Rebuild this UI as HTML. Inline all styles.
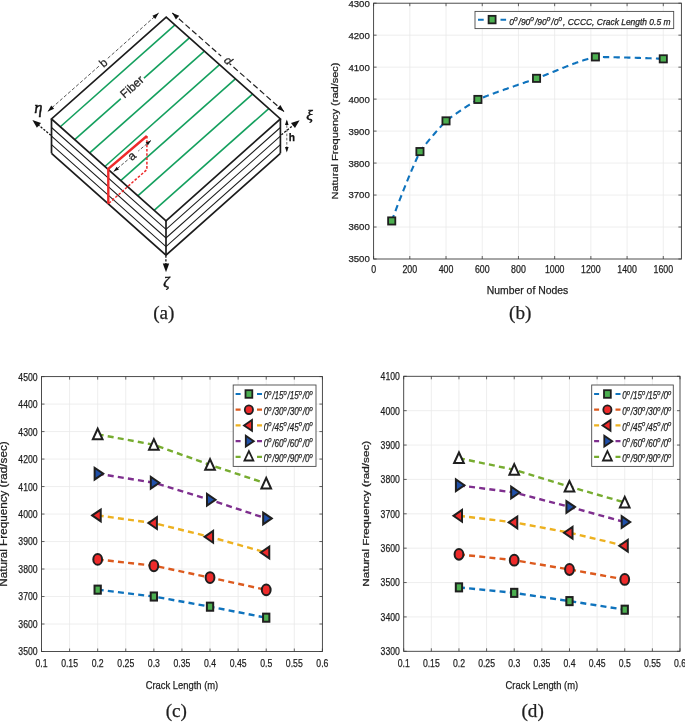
<!DOCTYPE html>
<html lang="en"><head><meta charset="utf-8"><title>Figure</title>
<style>html,body{margin:0;padding:0;background:#fff}svg{display:block}</style></head>
<body>
<svg width="685" height="722" viewBox="0 0 685 722">
<rect width="685" height="722" fill="#ffffff"/>
<g id="panel-a">
<line x1="175" y1="24.94" x2="60.3" y2="126.74" stroke="#14a05e" stroke-width="1.6"/>
<line x1="189.4" y1="37.78" x2="74.7" y2="139.58" stroke="#14a05e" stroke-width="1.6"/>
<line x1="204.4" y1="51.15" x2="89.7" y2="152.95" stroke="#14a05e" stroke-width="1.6"/>
<line x1="219.6" y1="64.7" x2="104.9" y2="166.5" stroke="#14a05e" stroke-width="1.6"/>
<line x1="235.4" y1="78.79" x2="120.7" y2="180.59" stroke="#14a05e" stroke-width="1.6"/>
<line x1="252.5" y1="94.03" x2="137.8" y2="195.83" stroke="#14a05e" stroke-width="1.6"/>
<line x1="268.8" y1="108.56" x2="154.1" y2="210.36" stroke="#14a05e" stroke-width="1.6"/>
<polygon points="166.2,17.1 280.4,118.9 166,220.8 51.5,118.9" fill="none" stroke="#1c1c1c" stroke-width="1.7" stroke-linejoin="miter"/>
<polyline points="51.5,127.5 166,229.4 280.4,127.5" fill="none" stroke="#1c1c1c" stroke-width="1.05"/>
<polyline points="51.5,136.1 166,238 280.4,136.1" fill="none" stroke="#1c1c1c" stroke-width="1.05"/>
<polyline points="51.5,144.7 166,246.6 280.4,144.7" fill="none" stroke="#1c1c1c" stroke-width="1.05"/>
<polyline points="51.5,153.3 166,255.2 280.4,153.3" fill="none" stroke="#1c1c1c" stroke-width="1.7"/>
<line x1="51.5" y1="118.9" x2="51.5" y2="153.3" stroke="#1c1c1c" stroke-width="1.7"/>
<line x1="166" y1="220.8" x2="166" y2="255.2" stroke="#1c1c1c" stroke-width="1.7"/>
<line x1="280.4" y1="118.9" x2="280.4" y2="153.3" stroke="#1c1c1c" stroke-width="1.7"/>
<polyline points="146.9,136 108.3,168.9 108.3,203.8" fill="none" stroke="#ee2a2a" stroke-width="2.4" stroke-linejoin="miter"/>
<polyline points="146.9,136 146.9,169.6 108.3,203.8" fill="none" stroke="#ee2a2a" stroke-width="1.5" stroke-dasharray="2.6 1.7"/>
<line x1="47.8" y1="111.4" x2="99.29" y2="65.85" stroke="#555" stroke-width="1.0" stroke-dasharray="3.4 2"/>
<line x1="158.7" y1="13" x2="107.51" y2="58.55" stroke="#555" stroke-width="1.0" stroke-dasharray="3.4 2"/>
<polygon points="47.8,111.4 51.2,105.44 54.12,108.73" fill="#111"/>
<polygon points="158.7,13 155.3,18.96 152.38,15.67" fill="#111"/>
<text x="106" y="65.8" font-size="11.8" text-anchor="middle" fill="#222" font-family='"Liberation Sans", Arial, sans-serif' transform="rotate(-41.6 106 65.8)" stroke="#222" stroke-width="0.25">b</text>
<line x1="172.3" y1="13" x2="221.18" y2="56.16" stroke="#222" stroke-width="1.2" stroke-dasharray="5.8 3"/>
<line x1="284" y1="111.6" x2="229.42" y2="63.44" stroke="#222" stroke-width="1.2" stroke-dasharray="5.8 3"/>
<polygon points="172.3,13 179.2,15.76 175.89,19.51" fill="#111"/>
<polygon points="284,111.6 277.1,108.84 280.41,105.09" fill="#111"/>
<text x="225.6" y="63.4" font-size="11.5" text-anchor="middle" fill="#222" font-family='"Liberation Sans", Arial, sans-serif' style="font-style:italic" transform="rotate(41.6 225.6 63.4)" stroke="#222" stroke-width="0.25">d</text>
<rect x="-15.5" y="-5" width="31" height="10" fill="#fff" transform="translate(132 88) rotate(-41.6)"/>
<text x="134.6" y="89.9" font-size="11.8" text-anchor="middle" fill="#222" font-family='"Liberation Sans", Arial, sans-serif' transform="rotate(-41.6 134.6 89.9)" stroke="#222" stroke-width="0.25">Fiber</text>
<line x1="113.6" y1="171.6" x2="129.78" y2="158.12" stroke="#555" stroke-width="1.0" stroke-dasharray="3.2 1.8"/>
<line x1="151" y1="140.4" x2="138.22" y2="151.08" stroke="#555" stroke-width="1.0" stroke-dasharray="3.2 1.8"/>
<polygon points="113.6,171.6 116.67,166.69 118.98,169.46" fill="#111"/>
<polygon points="151,140.4 147.93,145.31 145.62,142.54" fill="#111"/>
<text x="134.4" y="159" font-size="12.2" text-anchor="middle" fill="#222" font-family='"Liberation Sans", Arial, sans-serif' transform="rotate(-39.8 134.4 159)" stroke="#222" stroke-width="0.25">a</text>
<line x1="286.8" y1="121" x2="286.8" y2="151" stroke="#444" stroke-width="0.8" stroke-dasharray="2.6 1.6"/>
<polygon points="286.8,119.6 288.6,125.1 285,125.1" fill="#111"/>
<polygon points="286.8,152.4 285,146.9 288.6,146.9" fill="#111"/>
<text x="291.9" y="141.3" font-size="10.2" text-anchor="middle" fill="#111" font-family='"Liberation Sans", Arial, sans-serif' style="font-weight:bold" stroke="#111" stroke-width="0.25">h</text>
<line x1="50.9" y1="135.3" x2="36" y2="123" stroke="#111" stroke-width="1.3" stroke-dasharray="2.2 1.5"/>
<polygon points="32.4,119.9 40.98,122.88 36.89,127.8" fill="#111"/>
<line x1="281.4" y1="134.8" x2="295.5" y2="123.5" stroke="#111" stroke-width="1.3" stroke-dasharray="2.2 1.5"/>
<polygon points="299.6,120.2 294.97,128.01 290.97,123.02" fill="#111"/>
<line x1="165.9" y1="255.5" x2="165.9" y2="266" stroke="#111" stroke-width="1.3" stroke-dasharray="2.2 1.5"/>
<polygon points="166,272.2 162.8,263.6 169.2,263.6" fill="#111"/>
<text x="38.4" y="112.6" font-size="16.5" text-anchor="middle" fill="#111" font-family='"Liberation Serif", "Times New Roman", serif' style="font-style:italic" stroke="#111" stroke-width="0.45">&#951;</text>
<text x="309.6" y="119.6" font-size="15.5" text-anchor="middle" fill="#111" font-family='"Liberation Serif", "Times New Roman", serif' style="font-style:italic" stroke="#111" stroke-width="0.45">&#958;</text>
<text x="166.3" y="286.6" font-size="15.5" text-anchor="middle" fill="#111" font-family='"Liberation Serif", "Times New Roman", serif' style="font-style:italic" stroke="#111" stroke-width="0.45">&#950;</text>
<text x="163.8" y="319.2" font-size="19.2" text-anchor="middle" fill="#1e1e1e" font-family='"Liberation Serif", "Times New Roman", serif' stroke="#1e1e1e" stroke-width="0.25">(a)</text>
</g>
<g id="panel-b">
<line x1="409.81" y1="3.2" x2="409.81" y2="259" stroke="#eaeaea" stroke-width="0.8"/>
<line x1="446.02" y1="3.2" x2="446.02" y2="259" stroke="#eaeaea" stroke-width="0.8"/>
<line x1="482.24" y1="3.2" x2="482.24" y2="259" stroke="#eaeaea" stroke-width="0.8"/>
<line x1="518.45" y1="3.2" x2="518.45" y2="259" stroke="#eaeaea" stroke-width="0.8"/>
<line x1="554.66" y1="3.2" x2="554.66" y2="259" stroke="#eaeaea" stroke-width="0.8"/>
<line x1="590.87" y1="3.2" x2="590.87" y2="259" stroke="#eaeaea" stroke-width="0.8"/>
<line x1="627.08" y1="3.2" x2="627.08" y2="259" stroke="#eaeaea" stroke-width="0.8"/>
<line x1="663.29" y1="3.2" x2="663.29" y2="259" stroke="#eaeaea" stroke-width="0.8"/>
<line x1="373.6" y1="227.03" x2="681.4" y2="227.03" stroke="#eaeaea" stroke-width="0.8"/>
<line x1="373.6" y1="195.05" x2="681.4" y2="195.05" stroke="#eaeaea" stroke-width="0.8"/>
<line x1="373.6" y1="163.07" x2="681.4" y2="163.07" stroke="#eaeaea" stroke-width="0.8"/>
<line x1="373.6" y1="131.1" x2="681.4" y2="131.1" stroke="#eaeaea" stroke-width="0.8"/>
<line x1="373.6" y1="99.12" x2="681.4" y2="99.12" stroke="#eaeaea" stroke-width="0.8"/>
<line x1="373.6" y1="67.15" x2="681.4" y2="67.15" stroke="#eaeaea" stroke-width="0.8"/>
<line x1="373.6" y1="35.17" x2="681.4" y2="35.17" stroke="#eaeaea" stroke-width="0.8"/>
<line x1="373.6" y1="259" x2="373.6" y2="256" stroke="#3a3a3a" stroke-width="0.8"/>
<line x1="373.6" y1="3.2" x2="373.6" y2="6.2" stroke="#3a3a3a" stroke-width="0.8"/>
<line x1="409.81" y1="259" x2="409.81" y2="256" stroke="#3a3a3a" stroke-width="0.8"/>
<line x1="409.81" y1="3.2" x2="409.81" y2="6.2" stroke="#3a3a3a" stroke-width="0.8"/>
<line x1="446.02" y1="259" x2="446.02" y2="256" stroke="#3a3a3a" stroke-width="0.8"/>
<line x1="446.02" y1="3.2" x2="446.02" y2="6.2" stroke="#3a3a3a" stroke-width="0.8"/>
<line x1="482.24" y1="259" x2="482.24" y2="256" stroke="#3a3a3a" stroke-width="0.8"/>
<line x1="482.24" y1="3.2" x2="482.24" y2="6.2" stroke="#3a3a3a" stroke-width="0.8"/>
<line x1="518.45" y1="259" x2="518.45" y2="256" stroke="#3a3a3a" stroke-width="0.8"/>
<line x1="518.45" y1="3.2" x2="518.45" y2="6.2" stroke="#3a3a3a" stroke-width="0.8"/>
<line x1="554.66" y1="259" x2="554.66" y2="256" stroke="#3a3a3a" stroke-width="0.8"/>
<line x1="554.66" y1="3.2" x2="554.66" y2="6.2" stroke="#3a3a3a" stroke-width="0.8"/>
<line x1="590.87" y1="259" x2="590.87" y2="256" stroke="#3a3a3a" stroke-width="0.8"/>
<line x1="590.87" y1="3.2" x2="590.87" y2="6.2" stroke="#3a3a3a" stroke-width="0.8"/>
<line x1="627.08" y1="259" x2="627.08" y2="256" stroke="#3a3a3a" stroke-width="0.8"/>
<line x1="627.08" y1="3.2" x2="627.08" y2="6.2" stroke="#3a3a3a" stroke-width="0.8"/>
<line x1="663.29" y1="259" x2="663.29" y2="256" stroke="#3a3a3a" stroke-width="0.8"/>
<line x1="663.29" y1="3.2" x2="663.29" y2="6.2" stroke="#3a3a3a" stroke-width="0.8"/>
<line x1="373.6" y1="259" x2="376.6" y2="259" stroke="#3a3a3a" stroke-width="0.8"/>
<line x1="681.4" y1="259" x2="678.4" y2="259" stroke="#3a3a3a" stroke-width="0.8"/>
<line x1="373.6" y1="227.03" x2="376.6" y2="227.03" stroke="#3a3a3a" stroke-width="0.8"/>
<line x1="681.4" y1="227.03" x2="678.4" y2="227.03" stroke="#3a3a3a" stroke-width="0.8"/>
<line x1="373.6" y1="195.05" x2="376.6" y2="195.05" stroke="#3a3a3a" stroke-width="0.8"/>
<line x1="681.4" y1="195.05" x2="678.4" y2="195.05" stroke="#3a3a3a" stroke-width="0.8"/>
<line x1="373.6" y1="163.07" x2="376.6" y2="163.07" stroke="#3a3a3a" stroke-width="0.8"/>
<line x1="681.4" y1="163.07" x2="678.4" y2="163.07" stroke="#3a3a3a" stroke-width="0.8"/>
<line x1="373.6" y1="131.1" x2="376.6" y2="131.1" stroke="#3a3a3a" stroke-width="0.8"/>
<line x1="681.4" y1="131.1" x2="678.4" y2="131.1" stroke="#3a3a3a" stroke-width="0.8"/>
<line x1="373.6" y1="99.12" x2="376.6" y2="99.12" stroke="#3a3a3a" stroke-width="0.8"/>
<line x1="681.4" y1="99.12" x2="678.4" y2="99.12" stroke="#3a3a3a" stroke-width="0.8"/>
<line x1="373.6" y1="67.15" x2="376.6" y2="67.15" stroke="#3a3a3a" stroke-width="0.8"/>
<line x1="681.4" y1="67.15" x2="678.4" y2="67.15" stroke="#3a3a3a" stroke-width="0.8"/>
<line x1="373.6" y1="35.17" x2="376.6" y2="35.17" stroke="#3a3a3a" stroke-width="0.8"/>
<line x1="681.4" y1="35.17" x2="678.4" y2="35.17" stroke="#3a3a3a" stroke-width="0.8"/>
<line x1="373.6" y1="3.2" x2="376.6" y2="3.2" stroke="#3a3a3a" stroke-width="0.8"/>
<line x1="681.4" y1="3.2" x2="678.4" y2="3.2" stroke="#3a3a3a" stroke-width="0.8"/>
<rect x="373.6" y="3.2" width="307.8" height="255.8" fill="none" stroke="#3a3a3a" stroke-width="0.9"/>
<text x="373.6" y="273.28" font-size="10" text-anchor="middle" fill="#1e1e1e" font-family='"Liberation Sans", Arial, sans-serif' textLength="4.89" lengthAdjust="spacingAndGlyphs" stroke="#1e1e1e" stroke-width="0.25">0</text>
<text x="409.81" y="273.28" font-size="10" text-anchor="middle" fill="#1e1e1e" font-family='"Liberation Sans", Arial, sans-serif' textLength="14.68" lengthAdjust="spacingAndGlyphs" stroke="#1e1e1e" stroke-width="0.25">200</text>
<text x="446.02" y="273.28" font-size="10" text-anchor="middle" fill="#1e1e1e" font-family='"Liberation Sans", Arial, sans-serif' textLength="14.68" lengthAdjust="spacingAndGlyphs" stroke="#1e1e1e" stroke-width="0.25">400</text>
<text x="482.24" y="273.28" font-size="10" text-anchor="middle" fill="#1e1e1e" font-family='"Liberation Sans", Arial, sans-serif' textLength="14.68" lengthAdjust="spacingAndGlyphs" stroke="#1e1e1e" stroke-width="0.25">600</text>
<text x="518.45" y="273.28" font-size="10" text-anchor="middle" fill="#1e1e1e" font-family='"Liberation Sans", Arial, sans-serif' textLength="14.68" lengthAdjust="spacingAndGlyphs" stroke="#1e1e1e" stroke-width="0.25">800</text>
<text x="554.66" y="273.28" font-size="10" text-anchor="middle" fill="#1e1e1e" font-family='"Liberation Sans", Arial, sans-serif' textLength="19.57" lengthAdjust="spacingAndGlyphs" stroke="#1e1e1e" stroke-width="0.25">1000</text>
<text x="590.87" y="273.28" font-size="10" text-anchor="middle" fill="#1e1e1e" font-family='"Liberation Sans", Arial, sans-serif' textLength="19.57" lengthAdjust="spacingAndGlyphs" stroke="#1e1e1e" stroke-width="0.25">1200</text>
<text x="627.08" y="273.28" font-size="10" text-anchor="middle" fill="#1e1e1e" font-family='"Liberation Sans", Arial, sans-serif' textLength="19.57" lengthAdjust="spacingAndGlyphs" stroke="#1e1e1e" stroke-width="0.25">1400</text>
<text x="663.29" y="273.28" font-size="10" text-anchor="middle" fill="#1e1e1e" font-family='"Liberation Sans", Arial, sans-serif' textLength="19.57" lengthAdjust="spacingAndGlyphs" stroke="#1e1e1e" stroke-width="0.25">1600</text>
<text x="369.8" y="262.44" font-size="9.6" text-anchor="end" fill="#1e1e1e" font-family='"Liberation Sans", Arial, sans-serif' stroke="#1e1e1e" stroke-width="0.25">3500</text>
<text x="369.8" y="230.46" font-size="9.6" text-anchor="end" fill="#1e1e1e" font-family='"Liberation Sans", Arial, sans-serif' stroke="#1e1e1e" stroke-width="0.25">3600</text>
<text x="369.8" y="198.49" font-size="9.6" text-anchor="end" fill="#1e1e1e" font-family='"Liberation Sans", Arial, sans-serif' stroke="#1e1e1e" stroke-width="0.25">3700</text>
<text x="369.8" y="166.51" font-size="9.6" text-anchor="end" fill="#1e1e1e" font-family='"Liberation Sans", Arial, sans-serif' stroke="#1e1e1e" stroke-width="0.25">3800</text>
<text x="369.8" y="134.54" font-size="9.6" text-anchor="end" fill="#1e1e1e" font-family='"Liberation Sans", Arial, sans-serif' stroke="#1e1e1e" stroke-width="0.25">3900</text>
<text x="369.8" y="102.56" font-size="9.6" text-anchor="end" fill="#1e1e1e" font-family='"Liberation Sans", Arial, sans-serif' stroke="#1e1e1e" stroke-width="0.25">4000</text>
<text x="369.8" y="70.59" font-size="9.6" text-anchor="end" fill="#1e1e1e" font-family='"Liberation Sans", Arial, sans-serif' stroke="#1e1e1e" stroke-width="0.25">4100</text>
<text x="369.8" y="38.61" font-size="9.6" text-anchor="end" fill="#1e1e1e" font-family='"Liberation Sans", Arial, sans-serif' stroke="#1e1e1e" stroke-width="0.25">4200</text>
<text x="369.8" y="6.64" font-size="9.6" text-anchor="end" fill="#1e1e1e" font-family='"Liberation Sans", Arial, sans-serif' stroke="#1e1e1e" stroke-width="0.25">4300</text>
<path d="M391.71,220.95 L392.61,218.51 L393.52,216.08 L394.43,213.67 L395.34,211.26 L396.25,208.86 L397.16,206.48 L398.06,204.1 L398.97,201.74 L399.88,199.39 L400.79,197.06 L401.7,194.74 L402.61,192.43 L403.51,190.13 L404.42,187.86 L405.33,185.59 L406.24,183.34 L407.15,181.11 L408.06,178.89 L408.96,176.69 L409.87,174.51 L410.78,172.35 L411.69,170.2 L412.6,168.07 L413.51,165.96 L414.41,163.87 L415.32,161.8 L416.23,159.75 L417.14,157.72 L418.05,155.71 L418.96,153.72 L419.86,151.75 L419.95,151.56 L420.77,150.48 L421.68,149.3 L422.59,148.13 L423.5,146.97 L424.41,145.81 L425.31,144.67 L426.22,143.54 L427.13,142.42 L428.04,141.3 L428.95,140.2 L429.86,139.1 L430.76,138.02 L431.67,136.94 L432.58,135.87 L433.49,134.81 L434.4,133.76 L435.31,132.71 L436.21,131.67 L437.12,130.64 L438.03,129.61 L438.94,128.6 L439.85,127.59 L440.76,126.58 L441.66,125.58 L442.57,124.59 L443.48,123.6 L444.39,122.62 L445.3,121.65 L446.02,120.87 L446.21,120.73 L447.11,120.06 L448.02,119.4 L448.93,118.74 L449.84,118.08 L450.75,117.42 L451.66,116.77 L452.56,116.12 L453.47,115.48 L454.38,114.84 L455.29,114.2 L456.2,113.57 L457.11,112.94 L458.01,112.31 L458.92,111.68 L459.83,111.06 L460.74,110.45 L461.65,109.83 L462.55,109.22 L463.46,108.62 L464.37,108.01 L465.28,107.42 L466.19,106.82 L467.1,106.23 L468,105.64 L468.91,105.05 L469.82,104.47 L470.73,103.89 L471.64,103.31 L472.55,102.74 L473.45,102.17 L474.36,101.61 L475.27,101.05 L476.18,100.49 L477.09,99.93 L477.89,99.44 L478,99.4 L478.9,99.04 L479.81,98.68 L480.72,98.32 L481.63,97.96 L482.54,97.6 L483.45,97.25 L484.35,96.9 L485.26,96.55 L486.17,96.2 L487.08,95.86 L487.99,95.51 L488.9,95.17 L489.8,94.83 L490.71,94.5 L491.62,94.16 L492.53,93.82 L493.44,93.49 L494.35,93.16 L495.25,92.83 L496.16,92.5 L497.07,92.17 L497.98,91.85 L498.89,91.52 L499.8,91.2 L500.7,90.87 L501.61,90.55 L502.52,90.23 L503.43,89.91 L504.34,89.59 L505.25,89.27 L506.15,88.95 L507.06,88.64 L507.97,88.32 L508.88,88 L509.79,87.69 L510.7,87.37 L511.6,87.06 L512.51,86.74 L513.42,86.43 L514.33,86.12 L515.24,85.8 L516.15,85.49 L517.05,85.18 L517.96,84.86 L518.87,84.55 L519.78,84.23 L520.69,83.92 L521.6,83.61 L522.5,83.29 L523.41,82.98 L524.32,82.66 L525.23,82.34 L526.14,82.03 L527.05,81.71 L527.95,81.39 L528.86,81.07 L529.77,80.76 L530.68,80.44 L531.59,80.11 L532.5,79.79 L533.4,79.47 L534.31,79.15 L535.22,78.82 L536.13,78.49 L536.55,78.34 L537.04,78.16 L537.95,77.83 L538.85,77.49 L539.76,77.15 L540.67,76.81 L541.58,76.46 L542.49,76.12 L543.4,75.76 L544.3,75.41 L545.21,75.05 L546.12,74.7 L547.03,74.34 L547.94,73.98 L548.85,73.61 L549.75,73.25 L550.66,72.88 L551.57,72.52 L552.48,72.15 L553.39,71.78 L554.3,71.41 L555.2,71.04 L556.11,70.67 L557.02,70.3 L557.93,69.94 L558.84,69.57 L559.75,69.2 L560.65,68.83 L561.56,68.46 L562.47,68.1 L563.38,67.73 L564.29,67.37 L565.2,67.01 L566.1,66.65 L567.01,66.29 L567.92,65.93 L568.83,65.58 L569.74,65.22 L570.65,64.88 L571.55,64.53 L572.46,64.18 L573.37,63.84 L574.28,63.5 L575.19,63.17 L576.1,62.84 L577,62.51 L577.91,62.19 L578.82,61.87 L579.73,61.55 L580.64,61.24 L581.55,60.93 L582.45,60.63 L583.36,60.33 L584.27,60.04 L585.18,59.75 L586.09,59.47 L587,59.19 L587.9,58.92 L588.81,58.65 L589.72,58.39 L590.63,58.14 L591.54,57.89 L592.45,57.65 L593.35,57.42 L594.26,57.19 L595.17,56.97 L595.4,56.92 L596.08,56.93 L596.99,56.95 L597.89,56.96 L598.8,56.98 L599.71,57 L600.62,57.01 L601.53,57.03 L602.44,57.05 L603.34,57.07 L604.25,57.08 L605.16,57.1 L606.07,57.12 L606.98,57.13 L607.89,57.15 L608.79,57.17 L609.7,57.19 L610.61,57.2 L611.52,57.22 L612.43,57.24 L613.34,57.26 L614.24,57.28 L615.15,57.3 L616.06,57.32 L616.97,57.34 L617.88,57.36 L618.79,57.38 L619.69,57.4 L620.6,57.42 L621.51,57.44 L622.42,57.46 L623.33,57.48 L624.24,57.5 L625.14,57.52 L626.05,57.54 L626.96,57.57 L627.87,57.59 L628.78,57.61 L629.69,57.63 L630.59,57.66 L631.5,57.68 L632.41,57.71 L633.32,57.73 L634.23,57.76 L635.14,57.78 L636.04,57.81 L636.95,57.84 L637.86,57.86 L638.77,57.89 L639.68,57.92 L640.59,57.95 L641.49,57.97 L642.4,58 L643.31,58.03 L644.22,58.06 L645.13,58.1 L646.04,58.13 L646.94,58.16 L647.85,58.19 L648.76,58.22 L649.67,58.26 L650.58,58.29 L651.49,58.33 L652.39,58.36 L653.3,58.4 L654.21,58.43 L655.12,58.47 L656.03,58.51 L656.94,58.55 L657.84,58.59 L658.75,58.63 L659.66,58.67 L660.57,58.71 L661.48,58.75 L662.39,58.79 L663.29,58.84" fill="none" stroke="#0f73bd" stroke-width="2.1" stroke-dasharray="6.3 4.3" stroke-dashoffset="0"/>
<rect x="388.11" y="217.35" width="7.2" height="7.2" fill="#4caf50" stroke="#1f1f1f" stroke-width="1.8"/>
<rect x="416.35" y="147.96" width="7.2" height="7.2" fill="#4caf50" stroke="#1f1f1f" stroke-width="1.8"/>
<rect x="442.42" y="117.27" width="7.2" height="7.2" fill="#4caf50" stroke="#1f1f1f" stroke-width="1.8"/>
<rect x="474.29" y="95.84" width="7.2" height="7.2" fill="#4caf50" stroke="#1f1f1f" stroke-width="1.8"/>
<rect x="532.95" y="74.74" width="7.2" height="7.2" fill="#4caf50" stroke="#1f1f1f" stroke-width="1.8"/>
<rect x="591.8" y="53.32" width="7.2" height="7.2" fill="#4caf50" stroke="#1f1f1f" stroke-width="1.8"/>
<rect x="659.69" y="55.24" width="7.2" height="7.2" fill="#4caf50" stroke="#1f1f1f" stroke-width="1.8"/>
<text x="527.5" y="294.2" font-size="10.5" text-anchor="middle" fill="#1e1e1e" font-family='"Liberation Sans", Arial, sans-serif' textLength="81.5" lengthAdjust="spacingAndGlyphs" stroke="#1e1e1e" stroke-width="0.25">Number of Nodes</text>
<text x="337.8" y="131" font-size="9.6" text-anchor="middle" fill="#1e1e1e" font-family='"Liberation Sans", Arial, sans-serif' textLength="137" lengthAdjust="spacingAndGlyphs" transform="rotate(-90 337.8 131)" stroke="#1e1e1e" stroke-width="0.25">Natural Frequency (rad/sec)</text>
<rect x="475" y="11.4" width="198.7" height="17.2" fill="#fff" stroke="#4a4a4a" stroke-width="0.9"/>
<line x1="478" y1="19.7" x2="506.1" y2="19.7" stroke="#0f73bd" stroke-width="2.1" stroke-dasharray="5.7 16.8 5.7"/>
<rect x="488.6" y="15.85" width="7" height="7.5" fill="#4caf50" stroke="#1f1f1f" stroke-width="1.8"/>
<text x="509.2" y="25" font-size="8.9" text-anchor="start" fill="#1e1e1e" font-family='"Liberation Sans", Arial, sans-serif' textLength="161.3" lengthAdjust="spacingAndGlyphs" style="font-style:italic" stroke="#1e1e1e" stroke-width="0.25">0<tspan dy="-4.4" font-size="7">o</tspan><tspan dy="4.4" font-size="3.5"> </tspan>/90<tspan dy="-4.4" font-size="7">o</tspan><tspan dy="4.4" font-size="3.5"> </tspan>/90<tspan dy="-4.4" font-size="7">o</tspan><tspan dy="4.4" font-size="3.5"> </tspan>/0<tspan dy="-4.4" font-size="7">o</tspan><tspan dy="4.4" font-size="3.5"> </tspan>, CCCC, Crack Length 0.5 m</text>
<text x="520.2" y="319.2" font-size="19.2" text-anchor="middle" fill="#1e1e1e" font-family='"Liberation Serif", "Times New Roman", serif' stroke="#1e1e1e" stroke-width="0.25">(b)</text>
</g>
<g id="panel-c">
<line x1="69.59" y1="376.6" x2="69.59" y2="651.5" stroke="#eaeaea" stroke-width="0.8"/>
<line x1="97.68" y1="376.6" x2="97.68" y2="651.5" stroke="#eaeaea" stroke-width="0.8"/>
<line x1="125.77" y1="376.6" x2="125.77" y2="651.5" stroke="#eaeaea" stroke-width="0.8"/>
<line x1="153.86" y1="376.6" x2="153.86" y2="651.5" stroke="#eaeaea" stroke-width="0.8"/>
<line x1="181.95" y1="376.6" x2="181.95" y2="651.5" stroke="#eaeaea" stroke-width="0.8"/>
<line x1="210.04" y1="376.6" x2="210.04" y2="651.5" stroke="#eaeaea" stroke-width="0.8"/>
<line x1="238.13" y1="376.6" x2="238.13" y2="651.5" stroke="#eaeaea" stroke-width="0.8"/>
<line x1="266.22" y1="376.6" x2="266.22" y2="651.5" stroke="#eaeaea" stroke-width="0.8"/>
<line x1="294.31" y1="376.6" x2="294.31" y2="651.5" stroke="#eaeaea" stroke-width="0.8"/>
<line x1="41.5" y1="624.01" x2="322.4" y2="624.01" stroke="#eaeaea" stroke-width="0.8"/>
<line x1="41.5" y1="596.52" x2="322.4" y2="596.52" stroke="#eaeaea" stroke-width="0.8"/>
<line x1="41.5" y1="569.03" x2="322.4" y2="569.03" stroke="#eaeaea" stroke-width="0.8"/>
<line x1="41.5" y1="541.54" x2="322.4" y2="541.54" stroke="#eaeaea" stroke-width="0.8"/>
<line x1="41.5" y1="514.05" x2="322.4" y2="514.05" stroke="#eaeaea" stroke-width="0.8"/>
<line x1="41.5" y1="486.56" x2="322.4" y2="486.56" stroke="#eaeaea" stroke-width="0.8"/>
<line x1="41.5" y1="459.07" x2="322.4" y2="459.07" stroke="#eaeaea" stroke-width="0.8"/>
<line x1="41.5" y1="431.58" x2="322.4" y2="431.58" stroke="#eaeaea" stroke-width="0.8"/>
<line x1="41.5" y1="404.09" x2="322.4" y2="404.09" stroke="#eaeaea" stroke-width="0.8"/>
<line x1="41.5" y1="651.5" x2="41.5" y2="648.5" stroke="#3a3a3a" stroke-width="0.8"/>
<line x1="41.5" y1="376.6" x2="41.5" y2="379.6" stroke="#3a3a3a" stroke-width="0.8"/>
<line x1="69.59" y1="651.5" x2="69.59" y2="648.5" stroke="#3a3a3a" stroke-width="0.8"/>
<line x1="69.59" y1="376.6" x2="69.59" y2="379.6" stroke="#3a3a3a" stroke-width="0.8"/>
<line x1="97.68" y1="651.5" x2="97.68" y2="648.5" stroke="#3a3a3a" stroke-width="0.8"/>
<line x1="97.68" y1="376.6" x2="97.68" y2="379.6" stroke="#3a3a3a" stroke-width="0.8"/>
<line x1="125.77" y1="651.5" x2="125.77" y2="648.5" stroke="#3a3a3a" stroke-width="0.8"/>
<line x1="125.77" y1="376.6" x2="125.77" y2="379.6" stroke="#3a3a3a" stroke-width="0.8"/>
<line x1="153.86" y1="651.5" x2="153.86" y2="648.5" stroke="#3a3a3a" stroke-width="0.8"/>
<line x1="153.86" y1="376.6" x2="153.86" y2="379.6" stroke="#3a3a3a" stroke-width="0.8"/>
<line x1="181.95" y1="651.5" x2="181.95" y2="648.5" stroke="#3a3a3a" stroke-width="0.8"/>
<line x1="181.95" y1="376.6" x2="181.95" y2="379.6" stroke="#3a3a3a" stroke-width="0.8"/>
<line x1="210.04" y1="651.5" x2="210.04" y2="648.5" stroke="#3a3a3a" stroke-width="0.8"/>
<line x1="210.04" y1="376.6" x2="210.04" y2="379.6" stroke="#3a3a3a" stroke-width="0.8"/>
<line x1="238.13" y1="651.5" x2="238.13" y2="648.5" stroke="#3a3a3a" stroke-width="0.8"/>
<line x1="238.13" y1="376.6" x2="238.13" y2="379.6" stroke="#3a3a3a" stroke-width="0.8"/>
<line x1="266.22" y1="651.5" x2="266.22" y2="648.5" stroke="#3a3a3a" stroke-width="0.8"/>
<line x1="266.22" y1="376.6" x2="266.22" y2="379.6" stroke="#3a3a3a" stroke-width="0.8"/>
<line x1="294.31" y1="651.5" x2="294.31" y2="648.5" stroke="#3a3a3a" stroke-width="0.8"/>
<line x1="294.31" y1="376.6" x2="294.31" y2="379.6" stroke="#3a3a3a" stroke-width="0.8"/>
<line x1="322.4" y1="651.5" x2="322.4" y2="648.5" stroke="#3a3a3a" stroke-width="0.8"/>
<line x1="322.4" y1="376.6" x2="322.4" y2="379.6" stroke="#3a3a3a" stroke-width="0.8"/>
<line x1="41.5" y1="651.5" x2="44.5" y2="651.5" stroke="#3a3a3a" stroke-width="0.8"/>
<line x1="322.4" y1="651.5" x2="319.4" y2="651.5" stroke="#3a3a3a" stroke-width="0.8"/>
<line x1="41.5" y1="624.01" x2="44.5" y2="624.01" stroke="#3a3a3a" stroke-width="0.8"/>
<line x1="322.4" y1="624.01" x2="319.4" y2="624.01" stroke="#3a3a3a" stroke-width="0.8"/>
<line x1="41.5" y1="596.52" x2="44.5" y2="596.52" stroke="#3a3a3a" stroke-width="0.8"/>
<line x1="322.4" y1="596.52" x2="319.4" y2="596.52" stroke="#3a3a3a" stroke-width="0.8"/>
<line x1="41.5" y1="569.03" x2="44.5" y2="569.03" stroke="#3a3a3a" stroke-width="0.8"/>
<line x1="322.4" y1="569.03" x2="319.4" y2="569.03" stroke="#3a3a3a" stroke-width="0.8"/>
<line x1="41.5" y1="541.54" x2="44.5" y2="541.54" stroke="#3a3a3a" stroke-width="0.8"/>
<line x1="322.4" y1="541.54" x2="319.4" y2="541.54" stroke="#3a3a3a" stroke-width="0.8"/>
<line x1="41.5" y1="514.05" x2="44.5" y2="514.05" stroke="#3a3a3a" stroke-width="0.8"/>
<line x1="322.4" y1="514.05" x2="319.4" y2="514.05" stroke="#3a3a3a" stroke-width="0.8"/>
<line x1="41.5" y1="486.56" x2="44.5" y2="486.56" stroke="#3a3a3a" stroke-width="0.8"/>
<line x1="322.4" y1="486.56" x2="319.4" y2="486.56" stroke="#3a3a3a" stroke-width="0.8"/>
<line x1="41.5" y1="459.07" x2="44.5" y2="459.07" stroke="#3a3a3a" stroke-width="0.8"/>
<line x1="322.4" y1="459.07" x2="319.4" y2="459.07" stroke="#3a3a3a" stroke-width="0.8"/>
<line x1="41.5" y1="431.58" x2="44.5" y2="431.58" stroke="#3a3a3a" stroke-width="0.8"/>
<line x1="322.4" y1="431.58" x2="319.4" y2="431.58" stroke="#3a3a3a" stroke-width="0.8"/>
<line x1="41.5" y1="404.09" x2="44.5" y2="404.09" stroke="#3a3a3a" stroke-width="0.8"/>
<line x1="322.4" y1="404.09" x2="319.4" y2="404.09" stroke="#3a3a3a" stroke-width="0.8"/>
<line x1="41.5" y1="376.6" x2="44.5" y2="376.6" stroke="#3a3a3a" stroke-width="0.8"/>
<line x1="322.4" y1="376.6" x2="319.4" y2="376.6" stroke="#3a3a3a" stroke-width="0.8"/>
<rect x="41.5" y="376.6" width="280.9" height="274.9" fill="none" stroke="#3a3a3a" stroke-width="0.9"/>
<text x="41.5" y="667.44" font-size="11" text-anchor="middle" fill="#1e1e1e" font-family='"Liberation Sans", Arial, sans-serif' textLength="12.08" lengthAdjust="spacingAndGlyphs" stroke="#1e1e1e" stroke-width="0.25">0.1</text>
<text x="69.59" y="667.44" font-size="11" text-anchor="middle" fill="#1e1e1e" font-family='"Liberation Sans", Arial, sans-serif' textLength="16.91" lengthAdjust="spacingAndGlyphs" stroke="#1e1e1e" stroke-width="0.25">0.15</text>
<text x="97.68" y="667.44" font-size="11" text-anchor="middle" fill="#1e1e1e" font-family='"Liberation Sans", Arial, sans-serif' textLength="12.08" lengthAdjust="spacingAndGlyphs" stroke="#1e1e1e" stroke-width="0.25">0.2</text>
<text x="125.77" y="667.44" font-size="11" text-anchor="middle" fill="#1e1e1e" font-family='"Liberation Sans", Arial, sans-serif' textLength="16.91" lengthAdjust="spacingAndGlyphs" stroke="#1e1e1e" stroke-width="0.25">0.25</text>
<text x="153.86" y="667.44" font-size="11" text-anchor="middle" fill="#1e1e1e" font-family='"Liberation Sans", Arial, sans-serif' textLength="12.08" lengthAdjust="spacingAndGlyphs" stroke="#1e1e1e" stroke-width="0.25">0.3</text>
<text x="181.95" y="667.44" font-size="11" text-anchor="middle" fill="#1e1e1e" font-family='"Liberation Sans", Arial, sans-serif' textLength="16.91" lengthAdjust="spacingAndGlyphs" stroke="#1e1e1e" stroke-width="0.25">0.35</text>
<text x="210.04" y="667.44" font-size="11" text-anchor="middle" fill="#1e1e1e" font-family='"Liberation Sans", Arial, sans-serif' textLength="12.08" lengthAdjust="spacingAndGlyphs" stroke="#1e1e1e" stroke-width="0.25">0.4</text>
<text x="238.13" y="667.44" font-size="11" text-anchor="middle" fill="#1e1e1e" font-family='"Liberation Sans", Arial, sans-serif' textLength="16.91" lengthAdjust="spacingAndGlyphs" stroke="#1e1e1e" stroke-width="0.25">0.45</text>
<text x="266.22" y="667.44" font-size="11" text-anchor="middle" fill="#1e1e1e" font-family='"Liberation Sans", Arial, sans-serif' textLength="12.08" lengthAdjust="spacingAndGlyphs" stroke="#1e1e1e" stroke-width="0.25">0.5</text>
<text x="294.31" y="667.44" font-size="11" text-anchor="middle" fill="#1e1e1e" font-family='"Liberation Sans", Arial, sans-serif' textLength="16.91" lengthAdjust="spacingAndGlyphs" stroke="#1e1e1e" stroke-width="0.25">0.55</text>
<text x="322.4" y="667.44" font-size="11" text-anchor="middle" fill="#1e1e1e" font-family='"Liberation Sans", Arial, sans-serif' textLength="12.08" lengthAdjust="spacingAndGlyphs" stroke="#1e1e1e" stroke-width="0.25">0.6</text>
<text x="37.7" y="655.44" font-size="11" text-anchor="end" fill="#1e1e1e" font-family='"Liberation Sans", Arial, sans-serif' textLength="19.33" lengthAdjust="spacingAndGlyphs" stroke="#1e1e1e" stroke-width="0.25">3500</text>
<text x="37.7" y="627.95" font-size="11" text-anchor="end" fill="#1e1e1e" font-family='"Liberation Sans", Arial, sans-serif' textLength="19.33" lengthAdjust="spacingAndGlyphs" stroke="#1e1e1e" stroke-width="0.25">3600</text>
<text x="37.7" y="600.46" font-size="11" text-anchor="end" fill="#1e1e1e" font-family='"Liberation Sans", Arial, sans-serif' textLength="19.33" lengthAdjust="spacingAndGlyphs" stroke="#1e1e1e" stroke-width="0.25">3700</text>
<text x="37.7" y="572.97" font-size="11" text-anchor="end" fill="#1e1e1e" font-family='"Liberation Sans", Arial, sans-serif' textLength="19.33" lengthAdjust="spacingAndGlyphs" stroke="#1e1e1e" stroke-width="0.25">3800</text>
<text x="37.7" y="545.48" font-size="11" text-anchor="end" fill="#1e1e1e" font-family='"Liberation Sans", Arial, sans-serif' textLength="19.33" lengthAdjust="spacingAndGlyphs" stroke="#1e1e1e" stroke-width="0.25">3900</text>
<text x="37.7" y="517.99" font-size="11" text-anchor="end" fill="#1e1e1e" font-family='"Liberation Sans", Arial, sans-serif' textLength="19.33" lengthAdjust="spacingAndGlyphs" stroke="#1e1e1e" stroke-width="0.25">4000</text>
<text x="37.7" y="490.5" font-size="11" text-anchor="end" fill="#1e1e1e" font-family='"Liberation Sans", Arial, sans-serif' textLength="19.33" lengthAdjust="spacingAndGlyphs" stroke="#1e1e1e" stroke-width="0.25">4100</text>
<text x="37.7" y="463.01" font-size="11" text-anchor="end" fill="#1e1e1e" font-family='"Liberation Sans", Arial, sans-serif' textLength="19.33" lengthAdjust="spacingAndGlyphs" stroke="#1e1e1e" stroke-width="0.25">4200</text>
<text x="37.7" y="435.52" font-size="11" text-anchor="end" fill="#1e1e1e" font-family='"Liberation Sans", Arial, sans-serif' textLength="19.33" lengthAdjust="spacingAndGlyphs" stroke="#1e1e1e" stroke-width="0.25">4300</text>
<text x="37.7" y="408.03" font-size="11" text-anchor="end" fill="#1e1e1e" font-family='"Liberation Sans", Arial, sans-serif' textLength="19.33" lengthAdjust="spacingAndGlyphs" stroke="#1e1e1e" stroke-width="0.25">4400</text>
<text x="37.7" y="380.54" font-size="11" text-anchor="end" fill="#1e1e1e" font-family='"Liberation Sans", Arial, sans-serif' textLength="19.33" lengthAdjust="spacingAndGlyphs" stroke="#1e1e1e" stroke-width="0.25">4500</text>
<path d="M97.68,589.65 L153.86,596.52 L210.04,606.69 L266.22,617.69" fill="none" stroke="#0f73bd" stroke-width="2.4" stroke-dasharray="6 4.2" stroke-dashoffset="0"/>
<path d="M97.68,559.41 L153.86,565.73 L210.04,577.55 L266.22,589.92" fill="none" stroke="#dc5a1e" stroke-width="2.4" stroke-dasharray="6 4.2" stroke-dashoffset="0"/>
<path d="M97.68,515.42 L153.86,523.12 L210.04,536.87 L266.22,552.54" fill="none" stroke="#edb120" stroke-width="2.4" stroke-dasharray="6 4.2" stroke-dashoffset="0"/>
<path d="M97.68,473.64 L153.86,482.71 L210.04,499.76 L266.22,518.45" fill="none" stroke="#7e2f8e" stroke-width="2.4" stroke-dasharray="6 4.2" stroke-dashoffset="0"/>
<path d="M97.68,434.33 L153.86,444.78 L210.04,464.84 L266.22,483.54" fill="none" stroke="#77ac30" stroke-width="2.4" stroke-dasharray="6 4.2" stroke-dashoffset="0"/>
<rect x="94.53" y="585.6" width="6.3" height="8.1" fill="#4caf50" stroke="#1f1f1f" stroke-width="2.0"/>
<rect x="150.71" y="592.47" width="6.3" height="8.1" fill="#4caf50" stroke="#1f1f1f" stroke-width="2.0"/>
<rect x="206.89" y="602.64" width="6.3" height="8.1" fill="#4caf50" stroke="#1f1f1f" stroke-width="2.0"/>
<rect x="263.07" y="613.64" width="6.3" height="8.1" fill="#4caf50" stroke="#1f1f1f" stroke-width="2.0"/>
<ellipse cx="97.68" cy="559.41" rx="4.4" ry="5.4" fill="#ee2a2a" stroke="#1f1f1f" stroke-width="2.0"/>
<ellipse cx="153.86" cy="565.73" rx="4.4" ry="5.4" fill="#ee2a2a" stroke="#1f1f1f" stroke-width="2.0"/>
<ellipse cx="210.04" cy="577.55" rx="4.4" ry="5.4" fill="#ee2a2a" stroke="#1f1f1f" stroke-width="2.0"/>
<ellipse cx="266.22" cy="589.92" rx="4.4" ry="5.4" fill="#ee2a2a" stroke="#1f1f1f" stroke-width="2.0"/>
<polygon points="92.18,515.42 100.73,509.57 100.73,521.27" fill="#ee2a2a" stroke="#1f1f1f" stroke-width="2.0" stroke-linejoin="miter"/>
<polygon points="148.36,523.12 156.91,517.27 156.91,528.97" fill="#ee2a2a" stroke="#1f1f1f" stroke-width="2.0" stroke-linejoin="miter"/>
<polygon points="204.54,536.87 213.09,531.02 213.09,542.72" fill="#ee2a2a" stroke="#1f1f1f" stroke-width="2.0" stroke-linejoin="miter"/>
<polygon points="260.72,552.54 269.27,546.69 269.27,558.39" fill="#ee2a2a" stroke="#1f1f1f" stroke-width="2.0" stroke-linejoin="miter"/>
<polygon points="103.18,473.64 94.63,467.79 94.63,479.49" fill="#1f4fa8" stroke="#1f1f1f" stroke-width="2.0" stroke-linejoin="miter"/>
<polygon points="159.36,482.71 150.81,476.86 150.81,488.56" fill="#1f4fa8" stroke="#1f1f1f" stroke-width="2.0" stroke-linejoin="miter"/>
<polygon points="215.54,499.76 206.99,493.91 206.99,505.61" fill="#1f4fa8" stroke="#1f1f1f" stroke-width="2.0" stroke-linejoin="miter"/>
<polygon points="271.72,518.45 263.17,512.6 263.17,524.3" fill="#1f4fa8" stroke="#1f1f1f" stroke-width="2.0" stroke-linejoin="miter"/>
<polygon points="97.68,428.73 92.83,439.28 102.53,439.28" fill="#ffffff" stroke="#1f1f1f" stroke-width="2.0" stroke-linejoin="miter"/>
<polygon points="153.86,439.18 149.01,449.73 158.71,449.73" fill="#ffffff" stroke="#1f1f1f" stroke-width="2.0" stroke-linejoin="miter"/>
<polygon points="210.04,459.24 205.19,469.79 214.89,469.79" fill="#ffffff" stroke="#1f1f1f" stroke-width="2.0" stroke-linejoin="miter"/>
<polygon points="266.22,477.94 261.37,488.49 271.07,488.49" fill="#ffffff" stroke="#1f1f1f" stroke-width="2.0" stroke-linejoin="miter"/>
<text x="181.95" y="689.4" font-size="10.8" text-anchor="middle" fill="#1e1e1e" font-family='"Liberation Sans", Arial, sans-serif' textLength="72.6" lengthAdjust="spacingAndGlyphs" stroke="#1e1e1e" stroke-width="0.25">Crack Length (m)</text>
<text x="7" y="514.05" font-size="10.5" text-anchor="middle" fill="#1e1e1e" font-family='"Liberation Sans", Arial, sans-serif' textLength="145.5" lengthAdjust="spacingAndGlyphs" transform="rotate(-90 7 514.05)" stroke="#1e1e1e" stroke-width="0.25">Natural Frequency (rad/sec)</text>
<rect x="233.2" y="385" width="82.8" height="81.4" fill="#fff" stroke="#4a4a4a" stroke-width="0.9"/>
<line x1="235.6" y1="394" x2="262" y2="394" stroke="#0f73bd" stroke-width="2.2" stroke-dasharray="5 16.4 5"/>
<rect x="245.5" y="390.2" width="6.8" height="7.6" fill="#4caf50" stroke="#1f1f1f" stroke-width="1.8"/>
<text x="263.7" y="399.4" font-size="10.4" text-anchor="start" fill="#1e1e1e" font-family='"Liberation Sans", Arial, sans-serif' textLength="49.2" lengthAdjust="spacingAndGlyphs" style="font-style:italic" stroke="#1e1e1e" stroke-width="0.25">0<tspan dy="-4.4" font-size="7.6">o</tspan><tspan dy="4.4" font-size="3.5"> </tspan>/15<tspan dy="-4.4" font-size="7.6">o</tspan><tspan dy="4.4" font-size="3.5"> </tspan>/15<tspan dy="-4.4" font-size="7.6">o</tspan><tspan dy="4.4" font-size="3.5"> </tspan>/0<tspan dy="-4.4" font-size="7.6">o</tspan><tspan dy="4.4" font-size="3.5"> </tspan></text>
<line x1="235.6" y1="409.72" x2="262" y2="409.72" stroke="#dc5a1e" stroke-width="2.2" stroke-dasharray="5 16.4 5"/>
<ellipse cx="248.9" cy="409.72" rx="4.1" ry="4.3" fill="#ee2a2a" stroke="#1f1f1f" stroke-width="1.8"/>
<text x="263.7" y="415.12" font-size="10.4" text-anchor="start" fill="#1e1e1e" font-family='"Liberation Sans", Arial, sans-serif' textLength="49.2" lengthAdjust="spacingAndGlyphs" style="font-style:italic" stroke="#1e1e1e" stroke-width="0.25">0<tspan dy="-4.4" font-size="7.6">o</tspan><tspan dy="4.4" font-size="3.5"> </tspan>/30<tspan dy="-4.4" font-size="7.6">o</tspan><tspan dy="4.4" font-size="3.5"> </tspan>/30<tspan dy="-4.4" font-size="7.6">o</tspan><tspan dy="4.4" font-size="3.5"> </tspan>/0<tspan dy="-4.4" font-size="7.6">o</tspan><tspan dy="4.4" font-size="3.5"> </tspan></text>
<line x1="235.6" y1="425.44" x2="262" y2="425.44" stroke="#edb120" stroke-width="2.2" stroke-dasharray="5 16.4 5"/>
<polygon points="244,425.44 252,420.04 252,430.84" fill="#ee2a2a" stroke="#1f1f1f" stroke-width="1.8" stroke-linejoin="miter"/>
<text x="263.7" y="430.84" font-size="10.4" text-anchor="start" fill="#1e1e1e" font-family='"Liberation Sans", Arial, sans-serif' textLength="49.2" lengthAdjust="spacingAndGlyphs" style="font-style:italic" stroke="#1e1e1e" stroke-width="0.25">0<tspan dy="-4.4" font-size="7.6">o</tspan><tspan dy="4.4" font-size="3.5"> </tspan>/45<tspan dy="-4.4" font-size="7.6">o</tspan><tspan dy="4.4" font-size="3.5"> </tspan>/45<tspan dy="-4.4" font-size="7.6">o</tspan><tspan dy="4.4" font-size="3.5"> </tspan>/0<tspan dy="-4.4" font-size="7.6">o</tspan><tspan dy="4.4" font-size="3.5"> </tspan></text>
<line x1="235.6" y1="441.16" x2="262" y2="441.16" stroke="#7e2f8e" stroke-width="2.2" stroke-dasharray="5 16.4 5"/>
<polygon points="253.8,441.16 245.8,435.76 245.8,446.56" fill="#1f4fa8" stroke="#1f1f1f" stroke-width="1.8" stroke-linejoin="miter"/>
<text x="263.7" y="446.56" font-size="10.4" text-anchor="start" fill="#1e1e1e" font-family='"Liberation Sans", Arial, sans-serif' textLength="49.2" lengthAdjust="spacingAndGlyphs" style="font-style:italic" stroke="#1e1e1e" stroke-width="0.25">0<tspan dy="-4.4" font-size="7.6">o</tspan><tspan dy="4.4" font-size="3.5"> </tspan>/60<tspan dy="-4.4" font-size="7.6">o</tspan><tspan dy="4.4" font-size="3.5"> </tspan>/60<tspan dy="-4.4" font-size="7.6">o</tspan><tspan dy="4.4" font-size="3.5"> </tspan>/0<tspan dy="-4.4" font-size="7.6">o</tspan><tspan dy="4.4" font-size="3.5"> </tspan></text>
<line x1="235.6" y1="456.88" x2="262" y2="456.88" stroke="#77ac30" stroke-width="2.2" stroke-dasharray="5 16.4 5"/>
<polygon points="248.9,451.18 244.45,460.48 253.35,460.48" fill="#ffffff" stroke="#1f1f1f" stroke-width="1.8" stroke-linejoin="miter"/>
<text x="263.7" y="462.28" font-size="10.4" text-anchor="start" fill="#1e1e1e" font-family='"Liberation Sans", Arial, sans-serif' textLength="49.2" lengthAdjust="spacingAndGlyphs" style="font-style:italic" stroke="#1e1e1e" stroke-width="0.25">0<tspan dy="-4.4" font-size="7.6">o</tspan><tspan dy="4.4" font-size="3.5"> </tspan>/90<tspan dy="-4.4" font-size="7.6">o</tspan><tspan dy="4.4" font-size="3.5"> </tspan>/90<tspan dy="-4.4" font-size="7.6">o</tspan><tspan dy="4.4" font-size="3.5"> </tspan>/0<tspan dy="-4.4" font-size="7.6">o</tspan><tspan dy="4.4" font-size="3.5"> </tspan></text>
<text x="176.3" y="717.3" font-size="19.2" text-anchor="middle" fill="#1e1e1e" font-family='"Liberation Serif", "Times New Roman", serif' stroke="#1e1e1e" stroke-width="0.25">(c)</text>
</g>
<g id="panel-d">
<line x1="431.33" y1="376.3" x2="431.33" y2="651.3" stroke="#eaeaea" stroke-width="0.8"/>
<line x1="458.96" y1="376.3" x2="458.96" y2="651.3" stroke="#eaeaea" stroke-width="0.8"/>
<line x1="486.59" y1="376.3" x2="486.59" y2="651.3" stroke="#eaeaea" stroke-width="0.8"/>
<line x1="514.22" y1="376.3" x2="514.22" y2="651.3" stroke="#eaeaea" stroke-width="0.8"/>
<line x1="541.85" y1="376.3" x2="541.85" y2="651.3" stroke="#eaeaea" stroke-width="0.8"/>
<line x1="569.48" y1="376.3" x2="569.48" y2="651.3" stroke="#eaeaea" stroke-width="0.8"/>
<line x1="597.11" y1="376.3" x2="597.11" y2="651.3" stroke="#eaeaea" stroke-width="0.8"/>
<line x1="624.74" y1="376.3" x2="624.74" y2="651.3" stroke="#eaeaea" stroke-width="0.8"/>
<line x1="652.37" y1="376.3" x2="652.37" y2="651.3" stroke="#eaeaea" stroke-width="0.8"/>
<line x1="403.7" y1="616.92" x2="680" y2="616.92" stroke="#eaeaea" stroke-width="0.8"/>
<line x1="403.7" y1="582.55" x2="680" y2="582.55" stroke="#eaeaea" stroke-width="0.8"/>
<line x1="403.7" y1="548.17" x2="680" y2="548.17" stroke="#eaeaea" stroke-width="0.8"/>
<line x1="403.7" y1="513.8" x2="680" y2="513.8" stroke="#eaeaea" stroke-width="0.8"/>
<line x1="403.7" y1="479.42" x2="680" y2="479.42" stroke="#eaeaea" stroke-width="0.8"/>
<line x1="403.7" y1="445.05" x2="680" y2="445.05" stroke="#eaeaea" stroke-width="0.8"/>
<line x1="403.7" y1="410.68" x2="680" y2="410.68" stroke="#eaeaea" stroke-width="0.8"/>
<line x1="403.7" y1="651.3" x2="403.7" y2="648.3" stroke="#3a3a3a" stroke-width="0.8"/>
<line x1="403.7" y1="376.3" x2="403.7" y2="379.3" stroke="#3a3a3a" stroke-width="0.8"/>
<line x1="431.33" y1="651.3" x2="431.33" y2="648.3" stroke="#3a3a3a" stroke-width="0.8"/>
<line x1="431.33" y1="376.3" x2="431.33" y2="379.3" stroke="#3a3a3a" stroke-width="0.8"/>
<line x1="458.96" y1="651.3" x2="458.96" y2="648.3" stroke="#3a3a3a" stroke-width="0.8"/>
<line x1="458.96" y1="376.3" x2="458.96" y2="379.3" stroke="#3a3a3a" stroke-width="0.8"/>
<line x1="486.59" y1="651.3" x2="486.59" y2="648.3" stroke="#3a3a3a" stroke-width="0.8"/>
<line x1="486.59" y1="376.3" x2="486.59" y2="379.3" stroke="#3a3a3a" stroke-width="0.8"/>
<line x1="514.22" y1="651.3" x2="514.22" y2="648.3" stroke="#3a3a3a" stroke-width="0.8"/>
<line x1="514.22" y1="376.3" x2="514.22" y2="379.3" stroke="#3a3a3a" stroke-width="0.8"/>
<line x1="541.85" y1="651.3" x2="541.85" y2="648.3" stroke="#3a3a3a" stroke-width="0.8"/>
<line x1="541.85" y1="376.3" x2="541.85" y2="379.3" stroke="#3a3a3a" stroke-width="0.8"/>
<line x1="569.48" y1="651.3" x2="569.48" y2="648.3" stroke="#3a3a3a" stroke-width="0.8"/>
<line x1="569.48" y1="376.3" x2="569.48" y2="379.3" stroke="#3a3a3a" stroke-width="0.8"/>
<line x1="597.11" y1="651.3" x2="597.11" y2="648.3" stroke="#3a3a3a" stroke-width="0.8"/>
<line x1="597.11" y1="376.3" x2="597.11" y2="379.3" stroke="#3a3a3a" stroke-width="0.8"/>
<line x1="624.74" y1="651.3" x2="624.74" y2="648.3" stroke="#3a3a3a" stroke-width="0.8"/>
<line x1="624.74" y1="376.3" x2="624.74" y2="379.3" stroke="#3a3a3a" stroke-width="0.8"/>
<line x1="652.37" y1="651.3" x2="652.37" y2="648.3" stroke="#3a3a3a" stroke-width="0.8"/>
<line x1="652.37" y1="376.3" x2="652.37" y2="379.3" stroke="#3a3a3a" stroke-width="0.8"/>
<line x1="680" y1="651.3" x2="680" y2="648.3" stroke="#3a3a3a" stroke-width="0.8"/>
<line x1="680" y1="376.3" x2="680" y2="379.3" stroke="#3a3a3a" stroke-width="0.8"/>
<line x1="403.7" y1="651.3" x2="406.7" y2="651.3" stroke="#3a3a3a" stroke-width="0.8"/>
<line x1="680" y1="651.3" x2="677" y2="651.3" stroke="#3a3a3a" stroke-width="0.8"/>
<line x1="403.7" y1="616.92" x2="406.7" y2="616.92" stroke="#3a3a3a" stroke-width="0.8"/>
<line x1="680" y1="616.92" x2="677" y2="616.92" stroke="#3a3a3a" stroke-width="0.8"/>
<line x1="403.7" y1="582.55" x2="406.7" y2="582.55" stroke="#3a3a3a" stroke-width="0.8"/>
<line x1="680" y1="582.55" x2="677" y2="582.55" stroke="#3a3a3a" stroke-width="0.8"/>
<line x1="403.7" y1="548.17" x2="406.7" y2="548.17" stroke="#3a3a3a" stroke-width="0.8"/>
<line x1="680" y1="548.17" x2="677" y2="548.17" stroke="#3a3a3a" stroke-width="0.8"/>
<line x1="403.7" y1="513.8" x2="406.7" y2="513.8" stroke="#3a3a3a" stroke-width="0.8"/>
<line x1="680" y1="513.8" x2="677" y2="513.8" stroke="#3a3a3a" stroke-width="0.8"/>
<line x1="403.7" y1="479.42" x2="406.7" y2="479.42" stroke="#3a3a3a" stroke-width="0.8"/>
<line x1="680" y1="479.42" x2="677" y2="479.42" stroke="#3a3a3a" stroke-width="0.8"/>
<line x1="403.7" y1="445.05" x2="406.7" y2="445.05" stroke="#3a3a3a" stroke-width="0.8"/>
<line x1="680" y1="445.05" x2="677" y2="445.05" stroke="#3a3a3a" stroke-width="0.8"/>
<line x1="403.7" y1="410.68" x2="406.7" y2="410.68" stroke="#3a3a3a" stroke-width="0.8"/>
<line x1="680" y1="410.68" x2="677" y2="410.68" stroke="#3a3a3a" stroke-width="0.8"/>
<line x1="403.7" y1="376.3" x2="406.7" y2="376.3" stroke="#3a3a3a" stroke-width="0.8"/>
<line x1="680" y1="376.3" x2="677" y2="376.3" stroke="#3a3a3a" stroke-width="0.8"/>
<rect x="403.7" y="376.3" width="276.3" height="275" fill="none" stroke="#3a3a3a" stroke-width="0.9"/>
<text x="403.7" y="667.24" font-size="11" text-anchor="middle" fill="#1e1e1e" font-family='"Liberation Sans", Arial, sans-serif' textLength="12.08" lengthAdjust="spacingAndGlyphs" stroke="#1e1e1e" stroke-width="0.25">0.1</text>
<text x="431.33" y="667.24" font-size="11" text-anchor="middle" fill="#1e1e1e" font-family='"Liberation Sans", Arial, sans-serif' textLength="16.91" lengthAdjust="spacingAndGlyphs" stroke="#1e1e1e" stroke-width="0.25">0.15</text>
<text x="458.96" y="667.24" font-size="11" text-anchor="middle" fill="#1e1e1e" font-family='"Liberation Sans", Arial, sans-serif' textLength="12.08" lengthAdjust="spacingAndGlyphs" stroke="#1e1e1e" stroke-width="0.25">0.2</text>
<text x="486.59" y="667.24" font-size="11" text-anchor="middle" fill="#1e1e1e" font-family='"Liberation Sans", Arial, sans-serif' textLength="16.91" lengthAdjust="spacingAndGlyphs" stroke="#1e1e1e" stroke-width="0.25">0.25</text>
<text x="514.22" y="667.24" font-size="11" text-anchor="middle" fill="#1e1e1e" font-family='"Liberation Sans", Arial, sans-serif' textLength="12.08" lengthAdjust="spacingAndGlyphs" stroke="#1e1e1e" stroke-width="0.25">0.3</text>
<text x="541.85" y="667.24" font-size="11" text-anchor="middle" fill="#1e1e1e" font-family='"Liberation Sans", Arial, sans-serif' textLength="16.91" lengthAdjust="spacingAndGlyphs" stroke="#1e1e1e" stroke-width="0.25">0.35</text>
<text x="569.48" y="667.24" font-size="11" text-anchor="middle" fill="#1e1e1e" font-family='"Liberation Sans", Arial, sans-serif' textLength="12.08" lengthAdjust="spacingAndGlyphs" stroke="#1e1e1e" stroke-width="0.25">0.4</text>
<text x="597.11" y="667.24" font-size="11" text-anchor="middle" fill="#1e1e1e" font-family='"Liberation Sans", Arial, sans-serif' textLength="16.91" lengthAdjust="spacingAndGlyphs" stroke="#1e1e1e" stroke-width="0.25">0.45</text>
<text x="624.74" y="667.24" font-size="11" text-anchor="middle" fill="#1e1e1e" font-family='"Liberation Sans", Arial, sans-serif' textLength="12.08" lengthAdjust="spacingAndGlyphs" stroke="#1e1e1e" stroke-width="0.25">0.5</text>
<text x="652.37" y="667.24" font-size="11" text-anchor="middle" fill="#1e1e1e" font-family='"Liberation Sans", Arial, sans-serif' textLength="16.91" lengthAdjust="spacingAndGlyphs" stroke="#1e1e1e" stroke-width="0.25">0.55</text>
<text x="680" y="667.24" font-size="11" text-anchor="middle" fill="#1e1e1e" font-family='"Liberation Sans", Arial, sans-serif' textLength="12.08" lengthAdjust="spacingAndGlyphs" stroke="#1e1e1e" stroke-width="0.25">0.6</text>
<text x="399.9" y="655.24" font-size="11" text-anchor="end" fill="#1e1e1e" font-family='"Liberation Sans", Arial, sans-serif' textLength="19.33" lengthAdjust="spacingAndGlyphs" stroke="#1e1e1e" stroke-width="0.25">3300</text>
<text x="399.9" y="620.86" font-size="11" text-anchor="end" fill="#1e1e1e" font-family='"Liberation Sans", Arial, sans-serif' textLength="19.33" lengthAdjust="spacingAndGlyphs" stroke="#1e1e1e" stroke-width="0.25">3400</text>
<text x="399.9" y="586.49" font-size="11" text-anchor="end" fill="#1e1e1e" font-family='"Liberation Sans", Arial, sans-serif' textLength="19.33" lengthAdjust="spacingAndGlyphs" stroke="#1e1e1e" stroke-width="0.25">3500</text>
<text x="399.9" y="552.11" font-size="11" text-anchor="end" fill="#1e1e1e" font-family='"Liberation Sans", Arial, sans-serif' textLength="19.33" lengthAdjust="spacingAndGlyphs" stroke="#1e1e1e" stroke-width="0.25">3600</text>
<text x="399.9" y="517.74" font-size="11" text-anchor="end" fill="#1e1e1e" font-family='"Liberation Sans", Arial, sans-serif' textLength="19.33" lengthAdjust="spacingAndGlyphs" stroke="#1e1e1e" stroke-width="0.25">3700</text>
<text x="399.9" y="483.36" font-size="11" text-anchor="end" fill="#1e1e1e" font-family='"Liberation Sans", Arial, sans-serif' textLength="19.33" lengthAdjust="spacingAndGlyphs" stroke="#1e1e1e" stroke-width="0.25">3800</text>
<text x="399.9" y="448.99" font-size="11" text-anchor="end" fill="#1e1e1e" font-family='"Liberation Sans", Arial, sans-serif' textLength="19.33" lengthAdjust="spacingAndGlyphs" stroke="#1e1e1e" stroke-width="0.25">3900</text>
<text x="399.9" y="414.61" font-size="11" text-anchor="end" fill="#1e1e1e" font-family='"Liberation Sans", Arial, sans-serif' textLength="19.33" lengthAdjust="spacingAndGlyphs" stroke="#1e1e1e" stroke-width="0.25">4000</text>
<text x="399.9" y="380.24" font-size="11" text-anchor="end" fill="#1e1e1e" font-family='"Liberation Sans", Arial, sans-serif' textLength="19.33" lengthAdjust="spacingAndGlyphs" stroke="#1e1e1e" stroke-width="0.25">4100</text>
<path d="M458.96,587.36 L514.22,592.86 L569.48,601.11 L624.74,609.71" fill="none" stroke="#0f73bd" stroke-width="2.4" stroke-dasharray="6 4.2" stroke-dashoffset="0"/>
<path d="M458.96,554.36 L514.22,560.21 L569.48,569.49 L624.74,579.46" fill="none" stroke="#dc5a1e" stroke-width="2.4" stroke-dasharray="6 4.2" stroke-dashoffset="0"/>
<path d="M458.96,515.86 L514.22,522.39 L569.48,532.71 L624.74,545.77" fill="none" stroke="#edb120" stroke-width="2.4" stroke-dasharray="6 4.2" stroke-dashoffset="0"/>
<path d="M458.96,485.27 L514.22,492.49 L569.48,506.92 L624.74,522.05" fill="none" stroke="#7e2f8e" stroke-width="2.4" stroke-dasharray="6 4.2" stroke-dashoffset="0"/>
<path d="M458.96,458.11 L514.22,469.8 L569.48,486.64 L624.74,502.46" fill="none" stroke="#77ac30" stroke-width="2.4" stroke-dasharray="6 4.2" stroke-dashoffset="0"/>
<rect x="455.81" y="583.31" width="6.3" height="8.1" fill="#4caf50" stroke="#1f1f1f" stroke-width="2.0"/>
<rect x="511.07" y="588.81" width="6.3" height="8.1" fill="#4caf50" stroke="#1f1f1f" stroke-width="2.0"/>
<rect x="566.33" y="597.06" width="6.3" height="8.1" fill="#4caf50" stroke="#1f1f1f" stroke-width="2.0"/>
<rect x="621.59" y="605.66" width="6.3" height="8.1" fill="#4caf50" stroke="#1f1f1f" stroke-width="2.0"/>
<ellipse cx="458.96" cy="554.36" rx="4.4" ry="5.4" fill="#ee2a2a" stroke="#1f1f1f" stroke-width="2.0"/>
<ellipse cx="514.22" cy="560.21" rx="4.4" ry="5.4" fill="#ee2a2a" stroke="#1f1f1f" stroke-width="2.0"/>
<ellipse cx="569.48" cy="569.49" rx="4.4" ry="5.4" fill="#ee2a2a" stroke="#1f1f1f" stroke-width="2.0"/>
<ellipse cx="624.74" cy="579.46" rx="4.4" ry="5.4" fill="#ee2a2a" stroke="#1f1f1f" stroke-width="2.0"/>
<polygon points="453.46,515.86 462.01,510.01 462.01,521.71" fill="#ee2a2a" stroke="#1f1f1f" stroke-width="2.0" stroke-linejoin="miter"/>
<polygon points="508.72,522.39 517.27,516.54 517.27,528.24" fill="#ee2a2a" stroke="#1f1f1f" stroke-width="2.0" stroke-linejoin="miter"/>
<polygon points="563.98,532.71 572.53,526.86 572.53,538.56" fill="#ee2a2a" stroke="#1f1f1f" stroke-width="2.0" stroke-linejoin="miter"/>
<polygon points="619.24,545.77 627.79,539.92 627.79,551.62" fill="#ee2a2a" stroke="#1f1f1f" stroke-width="2.0" stroke-linejoin="miter"/>
<polygon points="464.46,485.27 455.91,479.42 455.91,491.12" fill="#1f4fa8" stroke="#1f1f1f" stroke-width="2.0" stroke-linejoin="miter"/>
<polygon points="519.72,492.49 511.17,486.64 511.17,498.34" fill="#1f4fa8" stroke="#1f1f1f" stroke-width="2.0" stroke-linejoin="miter"/>
<polygon points="574.98,506.92 566.43,501.07 566.43,512.77" fill="#1f4fa8" stroke="#1f1f1f" stroke-width="2.0" stroke-linejoin="miter"/>
<polygon points="630.24,522.05 621.69,516.2 621.69,527.9" fill="#1f4fa8" stroke="#1f1f1f" stroke-width="2.0" stroke-linejoin="miter"/>
<polygon points="458.96,452.51 454.11,463.06 463.81,463.06" fill="#ffffff" stroke="#1f1f1f" stroke-width="2.0" stroke-linejoin="miter"/>
<polygon points="514.22,464.2 509.37,474.75 519.07,474.75" fill="#ffffff" stroke="#1f1f1f" stroke-width="2.0" stroke-linejoin="miter"/>
<polygon points="569.48,481.04 564.63,491.59 574.33,491.59" fill="#ffffff" stroke="#1f1f1f" stroke-width="2.0" stroke-linejoin="miter"/>
<polygon points="624.74,496.86 619.89,507.41 629.59,507.41" fill="#ffffff" stroke="#1f1f1f" stroke-width="2.0" stroke-linejoin="miter"/>
<text x="541.85" y="689.4" font-size="10.8" text-anchor="middle" fill="#1e1e1e" font-family='"Liberation Sans", Arial, sans-serif' textLength="72.6" lengthAdjust="spacingAndGlyphs" stroke="#1e1e1e" stroke-width="0.25">Crack Length (m)</text>
<text x="368.7" y="513.8" font-size="8.7" text-anchor="middle" fill="#1e1e1e" font-family='"Liberation Sans", Arial, sans-serif' textLength="146" lengthAdjust="spacingAndGlyphs" transform="rotate(-90 368.7 513.8)" stroke="#1e1e1e" stroke-width="0.25">Natural Frequency (rad/sec)</text>
<rect x="591.7" y="385" width="81.6" height="81.4" fill="#fff" stroke="#4a4a4a" stroke-width="0.9"/>
<line x1="594.1" y1="394" x2="620.5" y2="394" stroke="#0f73bd" stroke-width="2.2" stroke-dasharray="5 16.4 5"/>
<rect x="604" y="390.2" width="6.8" height="7.6" fill="#4caf50" stroke="#1f1f1f" stroke-width="1.8"/>
<text x="622.2" y="399.4" font-size="10.4" text-anchor="start" fill="#1e1e1e" font-family='"Liberation Sans", Arial, sans-serif' textLength="49.2" lengthAdjust="spacingAndGlyphs" style="font-style:italic" stroke="#1e1e1e" stroke-width="0.25">0<tspan dy="-4.4" font-size="7.6">o</tspan><tspan dy="4.4" font-size="3.5"> </tspan>/15<tspan dy="-4.4" font-size="7.6">o</tspan><tspan dy="4.4" font-size="3.5"> </tspan>/15<tspan dy="-4.4" font-size="7.6">o</tspan><tspan dy="4.4" font-size="3.5"> </tspan>/0<tspan dy="-4.4" font-size="7.6">o</tspan><tspan dy="4.4" font-size="3.5"> </tspan></text>
<line x1="594.1" y1="409.72" x2="620.5" y2="409.72" stroke="#dc5a1e" stroke-width="2.2" stroke-dasharray="5 16.4 5"/>
<ellipse cx="607.4" cy="409.72" rx="4.1" ry="4.3" fill="#ee2a2a" stroke="#1f1f1f" stroke-width="1.8"/>
<text x="622.2" y="415.12" font-size="10.4" text-anchor="start" fill="#1e1e1e" font-family='"Liberation Sans", Arial, sans-serif' textLength="49.2" lengthAdjust="spacingAndGlyphs" style="font-style:italic" stroke="#1e1e1e" stroke-width="0.25">0<tspan dy="-4.4" font-size="7.6">o</tspan><tspan dy="4.4" font-size="3.5"> </tspan>/30<tspan dy="-4.4" font-size="7.6">o</tspan><tspan dy="4.4" font-size="3.5"> </tspan>/30<tspan dy="-4.4" font-size="7.6">o</tspan><tspan dy="4.4" font-size="3.5"> </tspan>/0<tspan dy="-4.4" font-size="7.6">o</tspan><tspan dy="4.4" font-size="3.5"> </tspan></text>
<line x1="594.1" y1="425.44" x2="620.5" y2="425.44" stroke="#edb120" stroke-width="2.2" stroke-dasharray="5 16.4 5"/>
<polygon points="602.5,425.44 610.5,420.04 610.5,430.84" fill="#ee2a2a" stroke="#1f1f1f" stroke-width="1.8" stroke-linejoin="miter"/>
<text x="622.2" y="430.84" font-size="10.4" text-anchor="start" fill="#1e1e1e" font-family='"Liberation Sans", Arial, sans-serif' textLength="49.2" lengthAdjust="spacingAndGlyphs" style="font-style:italic" stroke="#1e1e1e" stroke-width="0.25">0<tspan dy="-4.4" font-size="7.6">o</tspan><tspan dy="4.4" font-size="3.5"> </tspan>/45<tspan dy="-4.4" font-size="7.6">o</tspan><tspan dy="4.4" font-size="3.5"> </tspan>/45<tspan dy="-4.4" font-size="7.6">o</tspan><tspan dy="4.4" font-size="3.5"> </tspan>/0<tspan dy="-4.4" font-size="7.6">o</tspan><tspan dy="4.4" font-size="3.5"> </tspan></text>
<line x1="594.1" y1="441.16" x2="620.5" y2="441.16" stroke="#7e2f8e" stroke-width="2.2" stroke-dasharray="5 16.4 5"/>
<polygon points="612.3,441.16 604.3,435.76 604.3,446.56" fill="#1f4fa8" stroke="#1f1f1f" stroke-width="1.8" stroke-linejoin="miter"/>
<text x="622.2" y="446.56" font-size="10.4" text-anchor="start" fill="#1e1e1e" font-family='"Liberation Sans", Arial, sans-serif' textLength="49.2" lengthAdjust="spacingAndGlyphs" style="font-style:italic" stroke="#1e1e1e" stroke-width="0.25">0<tspan dy="-4.4" font-size="7.6">o</tspan><tspan dy="4.4" font-size="3.5"> </tspan>/60<tspan dy="-4.4" font-size="7.6">o</tspan><tspan dy="4.4" font-size="3.5"> </tspan>/60<tspan dy="-4.4" font-size="7.6">o</tspan><tspan dy="4.4" font-size="3.5"> </tspan>/0<tspan dy="-4.4" font-size="7.6">o</tspan><tspan dy="4.4" font-size="3.5"> </tspan></text>
<line x1="594.1" y1="456.88" x2="620.5" y2="456.88" stroke="#77ac30" stroke-width="2.2" stroke-dasharray="5 16.4 5"/>
<polygon points="607.4,451.18 602.95,460.48 611.85,460.48" fill="#ffffff" stroke="#1f1f1f" stroke-width="1.8" stroke-linejoin="miter"/>
<text x="622.2" y="462.28" font-size="10.4" text-anchor="start" fill="#1e1e1e" font-family='"Liberation Sans", Arial, sans-serif' textLength="49.2" lengthAdjust="spacingAndGlyphs" style="font-style:italic" stroke="#1e1e1e" stroke-width="0.25">0<tspan dy="-4.4" font-size="7.6">o</tspan><tspan dy="4.4" font-size="3.5"> </tspan>/90<tspan dy="-4.4" font-size="7.6">o</tspan><tspan dy="4.4" font-size="3.5"> </tspan>/90<tspan dy="-4.4" font-size="7.6">o</tspan><tspan dy="4.4" font-size="3.5"> </tspan>/0<tspan dy="-4.4" font-size="7.6">o</tspan><tspan dy="4.4" font-size="3.5"> </tspan></text>
<text x="532.6" y="717.3" font-size="19.2" text-anchor="middle" fill="#1e1e1e" font-family='"Liberation Serif", "Times New Roman", serif' stroke="#1e1e1e" stroke-width="0.25">(d)</text>
</g>
</svg>
</body></html>
